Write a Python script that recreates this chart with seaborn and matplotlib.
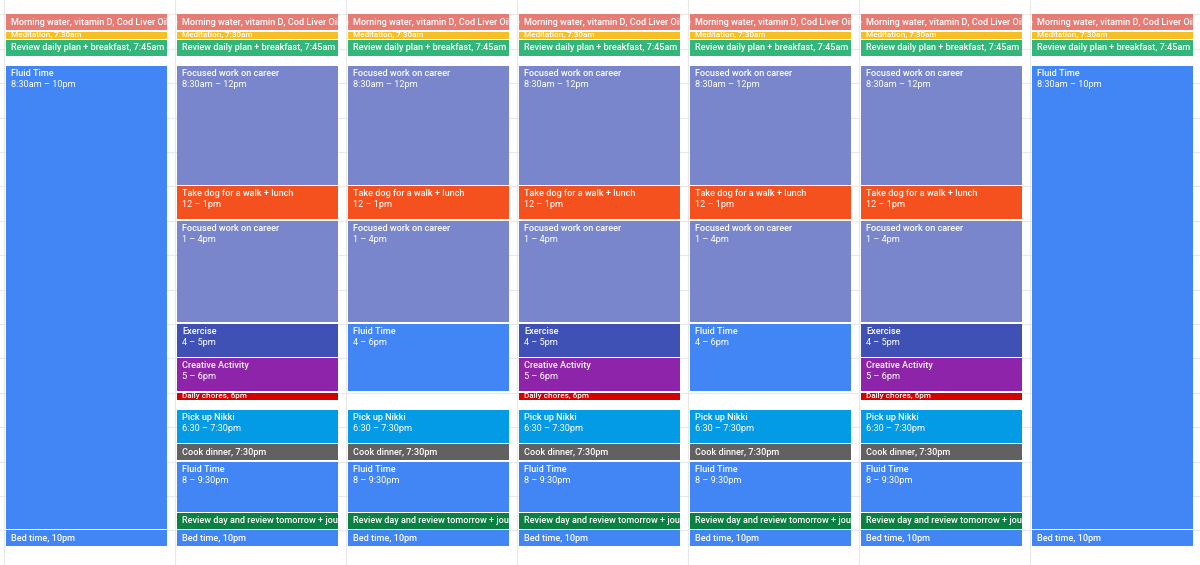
import matplotlib
matplotlib.use("Agg")
import matplotlib.pyplot as plt
import matplotlib.patches as mp
import seaborn as sns

sns.set_theme(style="white")
plt.rcParams['font.family'] = ['Roboto', 'DejaVu Sans']

# Event templates: (start hour, end hour, title, time label, colour)
morning = [
    (7.0, 7.5, "Morning water, vitamin D, Cod Liver Oil, e", "", "#E67C73"),
    (7.5, 7.75, "Meditation, 7:30am", "", "#F6BF26"),
    (7.75, 8.25, "Review daily plan + breakfast, 7:45am", "", "#33B679"),
]
weekend = [(8.5, 22.0, "Fluid Time", "8:30am – 10pm", "#4285F4")]
common_day = [
    (8.5, 12.0, "Focused work on career", "8:30am – 12pm", "#7986CB"),
    (12.0, 13.0, "Take dog for a walk + lunch", "12 – 1pm", "#F4511E"),
    (13.0, 16.0, "Focused work on career", "1 – 4pm", "#7986CB"),
]
exercise_day = [
    (16.0, 17.0, "Exercise", "4 – 5pm", "#3F51B5"),
    (17.0, 18.0, "Creative Activity", "5 – 6pm", "#8E24AA"),
    (18.0, 18.25, "Daily chores, 6pm", "", "#D50000"),
]
fluid_day = [(16.0, 18.0, "Fluid Time", "4 – 6pm", "#4285F4")]
evening = [
    (18.5, 19.5, "Pick up Nikki", "6:30 – 7:30pm", "#039BE5"),
    (19.5, 20.0, "Cook dinner, 7:30pm", "", "#616161"),
    (20.0, 21.5, "Fluid Time", "8 – 9:30pm", "#4285F4"),
    (21.5, 22.0, "Review day and review tomorrow + journ", "", "#0B8043"),
]
bedtime = [(22.0, 22.5, "Bed time, 10pm", "", "#4285F4")]

day_types = ["weekend", "exercise", "fluid", "exercise", "fluid", "exercise", "weekend"]

events = []
for d, t in enumerate(day_types):
    evs = list(morning)
    if t == "weekend":
        evs += weekend
    else:
        evs += common_day + (exercise_day if t == "exercise" else fluid_day) + evening
    evs += bedtime
    for e in evs:
        events.append((d,) + e)

fig = plt.figure(figsize=(12, 5.65), dpi=100)
ax = fig.add_axes([0, 0, 1, 1])
colw = 171.0
pxh = 34.4
ax.set_xlim(-6 / colw, 1194 / colw)
y_top = 7 - 14.4 / pxh
y_bot = 7 + 550.6 / pxh
ax.set_ylim(y_bot, y_top)
ax.axis("off")

for h in range(7, 24):
    ax.axhline(h, color="#E8E8E8", lw=0.8, zorder=0)
for d in range(8):
    ax.axvline(d - 2 / colw, color="#E8E8E8", lw=0.8, zorder=0)

w = 161 / colw
gap = 1.6 / pxh
for d, s, e, title, tl, c in events:
    dur = e - s
    ax.bar(d, dur - gap, bottom=s, width=w, align="edge", color=c,
           linewidth=0, zorder=2)
    x = d + 5 / colw
    clip = mp.Rectangle((d, y_top), w - 2 / colw, y_bot - y_top, transform=ax.transData)
    if tl:
        t1 = ax.text(x, s + 3 / pxh, title, color="white", fontsize=6.6, fontweight="medium",
                     va="top", ha="left", zorder=3)
        t2 = ax.text(x, s + 14 / pxh, tl, color="white", fontsize=6.6,
                     va="top", ha="left", zorder=3)
        texts = [t1, t2]
    else:
        fs = 5.9 if dur < 0.3 else 6.6
        texts = [ax.text(x, s + (dur - gap) / 2, title, color="white", fontsize=fs,
                         fontweight="medium", va="center", ha="left", zorder=3)]
    for t in texts:
        t.set_clip_path(clip)

fig.savefig("out.png", dpi=100)
